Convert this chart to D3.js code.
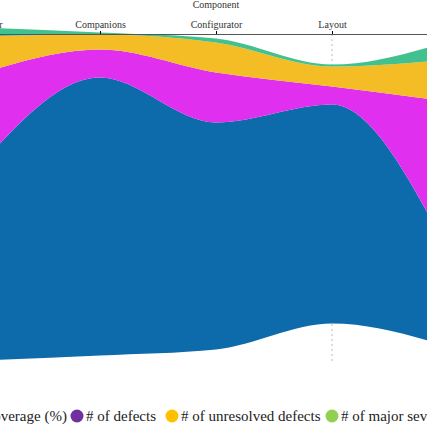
<!DOCTYPE html>
<html><head><meta charset="utf-8">
<script src="https://cdn.jsdelivr.net/npm/d3@7"></script>
<style>body{margin:0;background:#fff}svg{display:block}</style>
</head><body><svg width="427" height="427"></svg>
<script>
const categories = ["Designer","Companions","Configurator","Layout","Styling"];
const coverage   = [200, 278, 227, 219, 95];
const defects    = [88, 28, 50, 18, 150];
const unresolved = [36, 15, 30, 20, 42];
const major      = [9, 2, 4, 2, 18];
const seriesNames = ["Test coverage (%)","# of defects","# of unresolved defects","# of major severity defects"];
const areaColors = ["#0565a8","#e028ee","#f5bb1e","#3cbf8a"];
const legendColors = ["#0565a8","#7030a0","#ffc000","#92d050"];

const svg = d3.select("svg");
const rows = categories.map((c,i)=>({c, s0:coverage[i], s1:defects[i], s2:unresolved[i], s3:major[i]}));
const stack = d3.stack().keys(["s0","s1","s2","s3"]).offset(d3.stackOffsetSilhouette);
const layers = stack(rows);
const x = d3.scalePoint().domain(categories).range([-16, 448]);
const y = d3.scaleLinear().domain([-196, 196]).range([390, -2]);
const area = d3.area().curve(d3.curveMonotoneX)
  .x(d=>x(d.data.c)).y0(d=>y(d[0])).y1(d=>y(d[1]));
svg.append("line").attr("x1",x("Layout")).attr("x2",x("Layout")).attr("y1",34).attr("y2",362)
  .attr("stroke","#bbb").attr("stroke-dasharray","2,3");
svg.selectAll("path.l").data(layers).join("path").attr("class","l")
  .attr("d",area).attr("fill",(d,i)=>areaColors[i]).attr("opacity",0.97);
const ax = svg.append("g").attr("transform","translate(0,34)").call(d3.axisTop(x).tickSize(3));
ax.select(".domain").attr("stroke","#555");
ax.selectAll("text").attr("font-family","Liberation Serif").attr("font-size",10).attr("fill","#333");
svg.append("text").attr("x",216).attr("y",8).attr("text-anchor","middle")
  .attr("font-family","Liberation Serif").attr("font-size",10).attr("fill","#333").text("Component");
const lx = [-52, 77, 172, 332];
const lg = svg.selectAll("g.lg").data(seriesNames).join("g").attr("class","lg")
  .attr("transform",(d,i)=>`translate(${lx[i]},416)`);
lg.append("circle").attr("r",6.5).attr("fill",(d,i)=>legendColors[i]);
lg.append("text").attr("x",(d,i)=>i==0?10:9).attr("y",5).attr("font-family","Liberation Serif")
  .attr("font-size",15).attr("fill","#222").text(d=>d);
</script></body></html>
